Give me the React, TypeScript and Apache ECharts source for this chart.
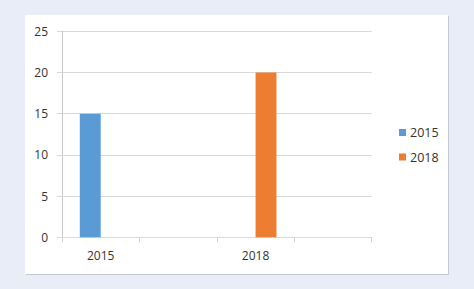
import React, { useEffect, useRef } from "react";
import * as echarts from "echarts";

const categories = ["2015", "", "2018", ""];
const seriesNames = ["2015", "2018"];
const values2015 = [15, null, null, null];
const values2018 = [null, null, 20, null];
const yTicks = { min: 0, max: 25, interval: 5 };
const colors = ["#5b9bd5", "#ed7d31"];

const FONT = "'Open Sans', 'Liberation Sans', sans-serif";

export default function App() {
  const ref = useRef<HTMLDivElement>(null);
  useEffect(() => {
    document.body.style.margin = "0";
    const chart = echarts.init(ref.current!, null, { renderer: "svg" });
    chart.setOption({
      animation: false,
      backgroundColor: "#e9edf7",
      textStyle: { fontFamily: FONT },
      graphic: [
        { type: "rect", z: -10, silent: true, shape: { x: 26, y: 16, width: 423, height: 259 }, style: { fill: "#c4c8d0" } },
        { type: "rect", z: -9, silent: true, shape: { x: 25, y: 15, width: 423, height: 259 }, style: { fill: "#ffffff" } },
      ],
      grid: { left: 62, top: 31.3, right: 102.3, bottom: 51.7 },
      legend: {
        orient: "vertical",
        left: 394,
        top: 121,
        itemWidth: 7,
        itemHeight: 7,
        itemGap: 11.5,
        icon: "rect",
        data: seriesNames,
        textStyle: { fontFamily: FONT, fontSize: 12.5, color: "#333333", lineHeight: 13, padding: [0, 0, 0, -1] },
      },
      xAxis: {
        type: "category",
        data: categories,
        boundaryGap: true,
        axisLine: { lineStyle: { color: "#d9d9d9" } },
        axisTick: { show: true, length: 5, interval: 0, lineStyle: { color: "#d0d0d0" } },
        axisLabel: { interval: 0, margin: 12, fontFamily: FONT, fontSize: 12, color: "#333333" },
        splitLine: { show: false },
      },
      yAxis: {
        type: "value",
        min: yTicks.min,
        max: yTicks.max,
        interval: yTicks.interval,
        axisLine: { show: true, lineStyle: { color: "#c8c8c8" } },
        axisTick: { show: true, length: 5, lineStyle: { color: "#d9d9d9" } },
        axisLabel: { margin: 14, fontFamily: FONT, fontSize: 12, color: "#333333" },
        splitLine: { lineStyle: { color: "#d9d9d9" } },
      },
      series: [
        { name: seriesNames[0], type: "bar", data: values2015, itemStyle: { color: colors[0] }, barGap: "0%", barCategoryGap: "46%" },
        { name: seriesNames[1], type: "bar", data: values2018, itemStyle: { color: colors[1] }, barGap: "0%", barCategoryGap: "46%" },
      ],
    });
    return () => chart.dispose();
  }, []);
  return <div ref={ref} style={{ width: 474, height: 289 }} />;
}
